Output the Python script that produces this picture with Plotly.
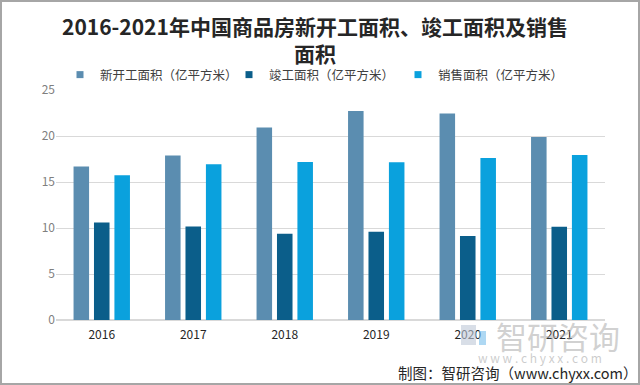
import plotly.graph_objects as go

years = ["2016", "2017", "2018", "2019", "2020", "2021"]
new_start = [16.69, 17.87, 20.93, 22.72, 22.44, 19.89]
completed = [10.60, 10.15, 9.38, 9.59, 9.12, 10.14]
sales = [15.73, 16.94, 17.17, 17.16, 17.61, 17.94]
series_names = ["新开工面积（亿平方米）", "竣工面积（亿平方米）", "销售面积（亿平方米）"]
colors = ["#5B8DB0", "#0B5E8A", "#0AA1DD"]
y_ticks = [0, 5, 10, 15, 20, 25]
title_text = "2016-2021年中国商品房新开工面积、竣工面积及销售<br>面积"

W, H = 640, 385
ML, MR, MT, MB = 56, 35, 90, 65
PW, PH = W - ML - MR, H - MT - MB

def px(x):
    return (x - ML) / PW

def py(y):
    return (H - MB - y) / PH

fig = go.Figure()
for name, vals, c in zip(series_names, [new_start, completed, sales], colors):
    fig.add_trace(go.Bar(x=years, y=vals, name=name, marker_color=c,
                         marker_line_width=0, showlegend=False))
    fig.add_trace(go.Scatter(x=[None], y=[None], mode="markers", name=name,
                             marker=dict(symbol="square", size=7, color=c)))

cjk = "Noto Sans CJK SC"
fig.update_layout(
    width=W, height=H,
    margin=dict(l=ML, r=MR, t=MT, b=MB, autoexpand=False),
    paper_bgcolor="white", plot_bgcolor="white",
    barmode="group", bargap=0.33, bargroupgap=0.24,
    font=dict(family=cjk, color="#595959"),
    legend=dict(orientation="h", x=px(60), xanchor="left", y=py(75), yanchor="middle",
                entrywidth=124, entrywidthmode="pixels",
                font=dict(family=cjk, size=12.5, color="#404040"),
                bgcolor="rgba(0,0,0,0)", itemwidth=30),
    xaxis=dict(showgrid=False, showline=False, ticks="", type="category",
               ticklabelstandoff=6,
               tickfont=dict(family=cjk, size=12, color="#262626")),
    yaxis=dict(range=[0, 25], tickvals=y_ticks, showgrid=True, gridcolor="#D9D9D9",
               gridwidth=1, zeroline=True, zerolinecolor="#D9D9D9", showline=False,
               ticks="", tickfont=dict(family=cjk, size=12, color="#7F7F7F")),
)

fig.add_annotation(text="<b>" + title_text + "</b>", xref="paper", yref="paper",
                   x=px(315), y=py(40), xanchor="center", yanchor="middle", align="center",
                   showarrow=False, font=dict(family=cjk, size=21, color="#262626"))

# outer frame
fig.add_shape(type="rect", xref="paper", yref="paper",
              x0=px(1), x1=px(W - 1), y0=py(H - 1), y1=py(1),
              line=dict(color="#A6A6A6", width=2), fillcolor="rgba(0,0,0,0)", layer="below")

# watermark
fig.add_shape(type="rect", xref="paper", yref="paper", x0=px(461), x1=px(476), y0=py(345), y1=py(325),
              line=dict(width=0), fillcolor="rgba(190,200,215,0.6)")
fig.add_shape(type="rect", xref="paper", yref="paper", x0=px(479), x1=px(486), y0=py(345), y1=py(331),
              line=dict(width=0), fillcolor="rgba(120,190,235,0.6)")
fig.add_annotation(text="智研咨询", xref="paper", yref="paper", x=px(558), y=py(335),
                   xanchor="center", yanchor="middle",
                   showarrow=False, font=dict(family=cjk, size=31, color="rgba(170,170,170,0.55)"))
fig.add_annotation(text="w w w . c h y x x . c o m", xref="paper", yref="paper", x=px(540), y=py(357),
                   xanchor="center", yanchor="middle",
                   showarrow=False, font=dict(family=cjk, size=12, color="rgba(170,170,170,0.6)"))
fig.add_annotation(text="制图：智研咨询（www.chyxx.com）", xref="paper", yref="paper",
                   x=px(640), y=py(372), xanchor="right", yanchor="middle",
                   showarrow=False, font=dict(family=cjk, size=14.5, color="#262626"))

fig.write_html("out.html", config={"displayModeBar": False},
               post_script="document.body.style.margin='0';document.body.style.overflow='hidden';")
